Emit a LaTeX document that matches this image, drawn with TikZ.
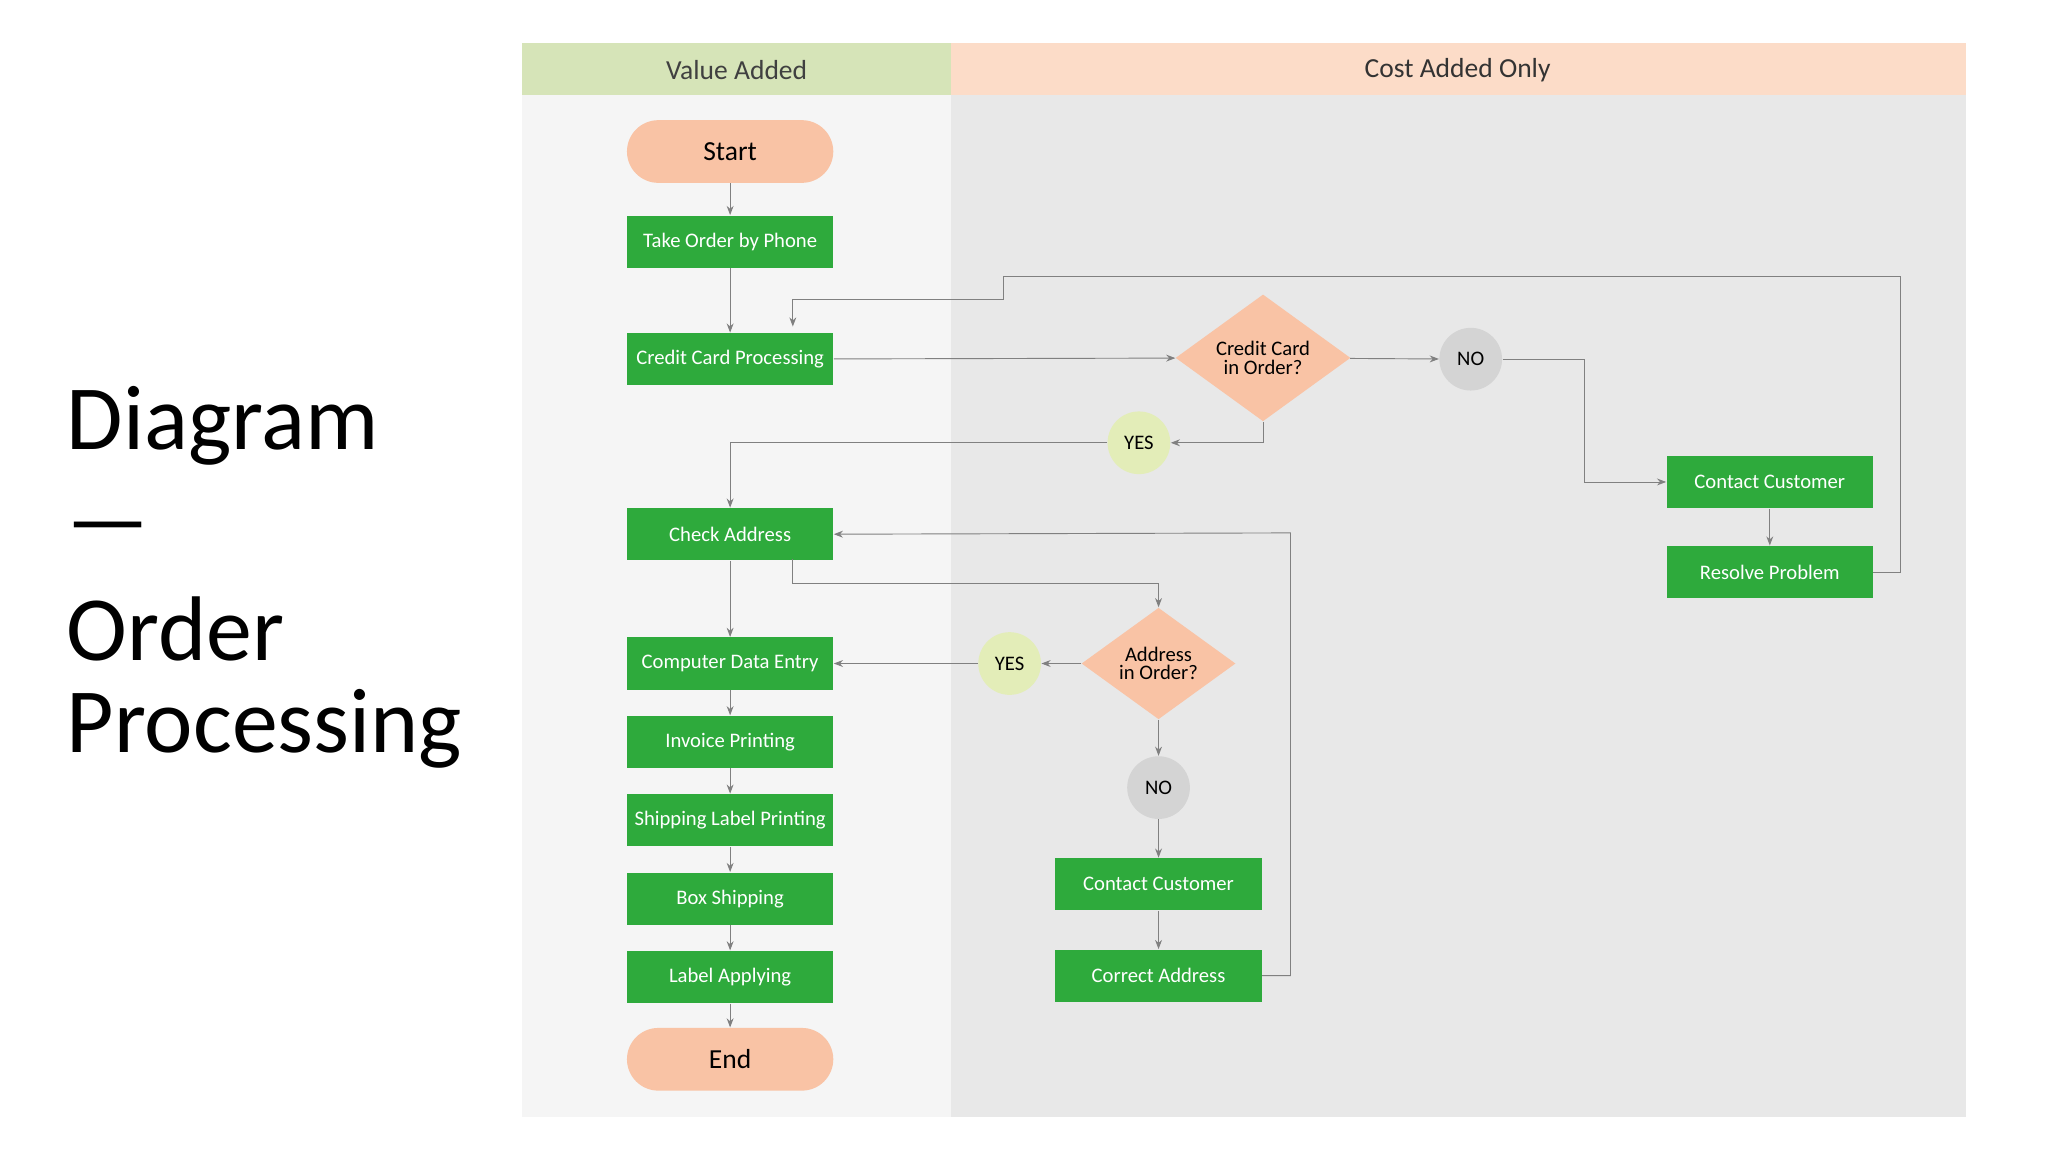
\documentclass[tikz,border=0pt]{standalone}
\usepackage{fontspec}
\setmainfont{Carlito}
\usetikzlibrary{shapes.geometric,arrows.meta}
\definecolor{boxgreen}{HTML}{2EAA3C}
\definecolor{salmon}{HTML}{F9C3A5}
\definecolor{lanegreen}{HTML}{D6E4B8}
\definecolor{lanepeach}{HTML}{FCDCC8}
\definecolor{yesgreen}{HTML}{E3EDB8}
\definecolor{nogray}{HTML}{D4D4D4}
\begin{document}
\begin{tikzpicture}[x=0.02cm,y=-0.02cm]
        \tikzstyle{task}=[fill=boxgreen,text=white,minimum width=3.16cm,minimum height=0.8cm,inner sep=0pt,font=\small]
        \tikzstyle{term}=[fill=salmon,rounded corners=0.48cm,minimum width=3.16cm,minimum height=0.96cm,font=\large]
        \tikzstyle{decide}=[diamond,fill=salmon,inner sep=0pt,font=\small,align=center]
        \tikzstyle{yes}=[circle,fill=yesgreen,minimum size=0.96cm,inner sep=0pt,font=\small]
        \tikzstyle{no}=[circle,fill=nogray,minimum size=0.96cm,inner sep=0pt,font=\small]
        \tikzstyle{flow}=[draw=gray,-{Stealth[length=4pt,width=3pt]}]
        \useasboundingbox (0,0) rectangle (1568,882);
        % lanes
        \fill [lanegreen] (400,33) rectangle (728,73);
        \fill [lanepeach] (728,33) rectangle (1505,73);
        \fill [black!4] (400,73) rectangle (728,855);
        \fill [black!9] (728,73) rectangle (1505,855);
        \node [font=\large,text=black!75] (lane1) at (564,54) {Value Added};
        \node [font=\large,text=black!80] (lane2) at (1116,54) {Cost Added Only};
        % title
        \node [anchor=west,font=\fontsize{40}{48}\selectfont,align=left] (title) at (45,442)
          {Diagram\\[-4pt]---\\Order\\[-8pt]Processing};
        % nodes
        \node [term] (start) at (559,116) {Start};
        \node [task] (take) at (559,185) {Take Order by Phone};
        \node [task] (ccp) at (559,275) {Credit Card Processing};
        \node [decide,minimum width=2.68cm,minimum height=1.76cm] (cc) at (967,274) {Credit Card\\[-3pt]in Order?};
        \node [no] (no1) at (1126,275) {NO};
        \node [yes] (yes1) at (872,339) {YES};
        \node [task] (contact1) at (1355,369) {Contact Customer};
        \node [task] (resolve) at (1355,438) {Resolve Problem};
        \node [task] (check) at (559,409) {Check Address};
        \node [decide,minimum width=2.36cm,minimum height=1.64cm] (addr) at (887,508) {Address\\[-3pt]in Order?};
        \node [yes] (yes2) at (773,508) {YES};
        \node [no] (no2) at (887,603) {NO};
        \node [task] (contact2) at (887,677) {Contact Customer};
        \node [task] (correct) at (887,747) {Correct Address};
        \node [task] (entry) at (559,508) {Computer Data Entry};
        \node [task] (invoice) at (559,568) {Invoice Printing};
        \node [task] (label) at (559,628) {Shipping Label Printing};
        \node [task] (box) at (559,688) {Box Shipping};
        \node [task] (apply) at (559,748) {Label Applying};
        \node [term] (end) at (559,811) {End};
        % connectors
        \draw [flow] (start) -- (take);
        \draw [flow] (take) -- (ccp);
        \draw [flow] (ccp) -- (cc);
        \draw [flow] (cc) -- (no1);
        \draw [flow] (no1.east) -| (1213,330) |- (contact1.west);
        \draw [flow] (contact1) -- (resolve);
        \draw [flow] (resolve.east) -| (1455,212) -| (768,229) -| (607,250);
        \draw [flow] (cc.south) |- (yes1.east);
        \draw [flow] (yes1.west) -| (check.north);
        \draw [flow] (607,428) |- (887,447) -- (addr.north);
        \draw [flow] (check) -- (entry);
        \draw [flow] (addr) -- (yes2);
        \draw [flow] (yes2) -- (entry);
        \draw [flow] (addr) -- (no2);
        \draw [flow] (no2) -- (contact2);
        \draw [flow] (contact2) -- (correct);
        \draw [flow] (correct.east) -| (988,408) -- (check.east);
        \draw [flow] (entry) -- (invoice);
        \draw [flow] (invoice) -- (label);
        \draw [flow] (label) -- (box);
        \draw [flow] (box) -- (apply);
        \draw [flow] (apply) -- (end);
\end{tikzpicture}
\end{document}
